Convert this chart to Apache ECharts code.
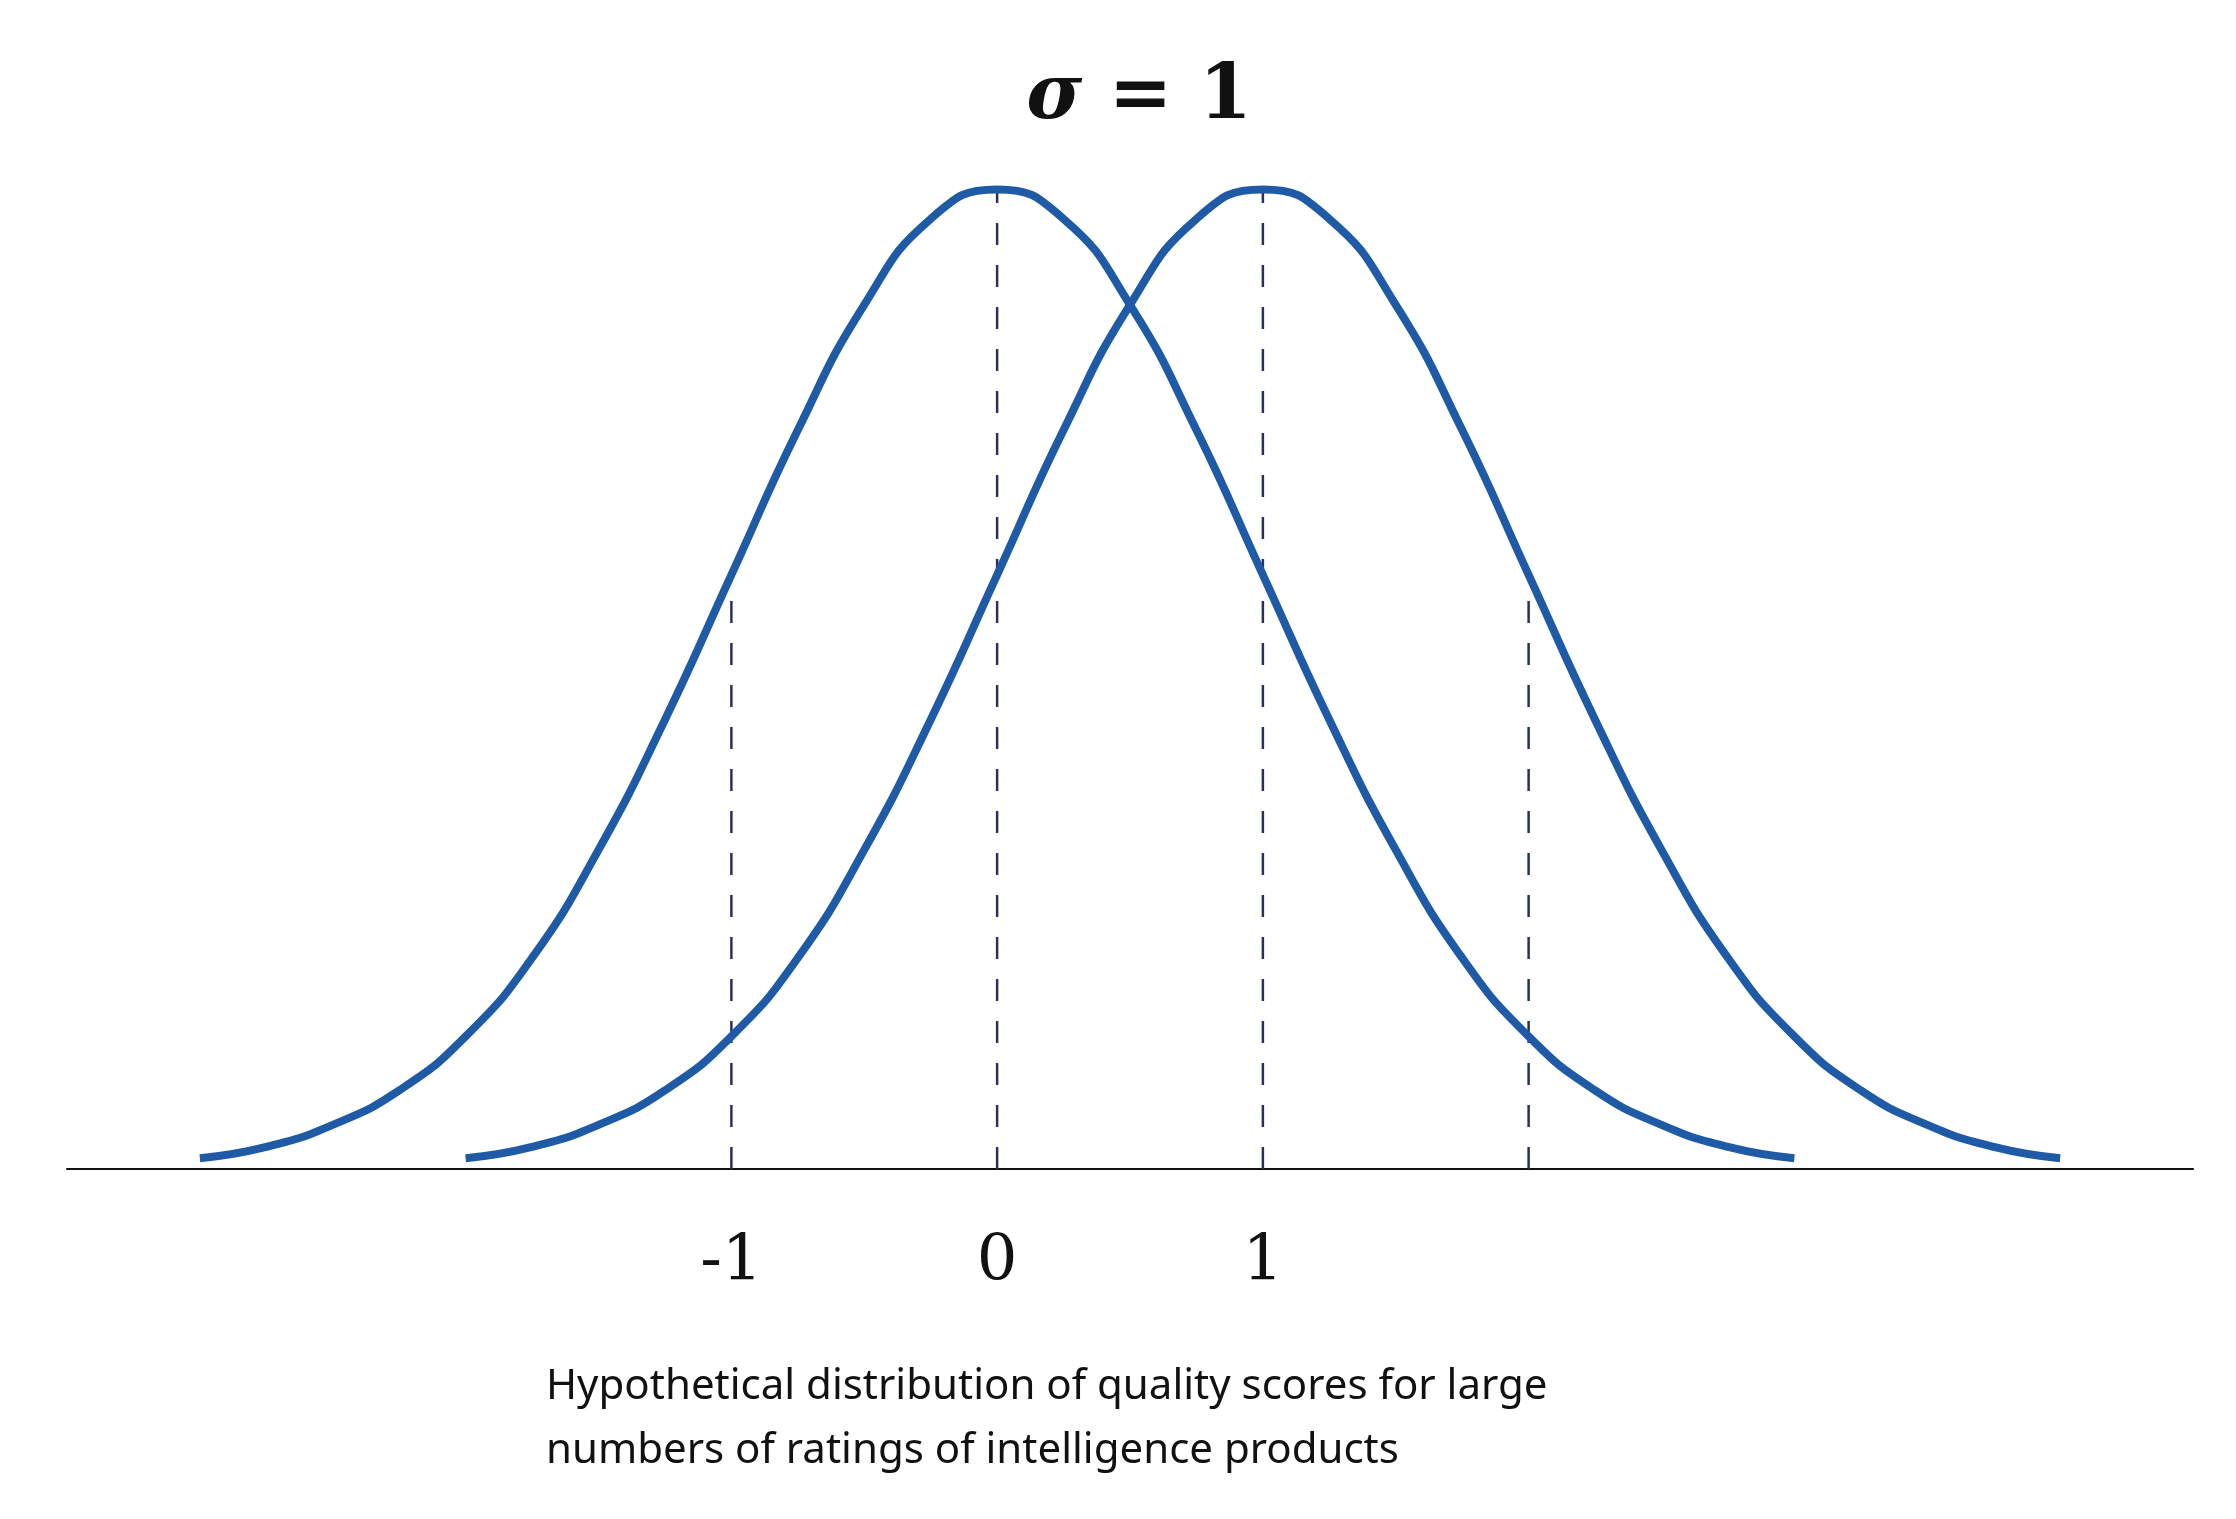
<!DOCTYPE html>
<html><head><meta charset="utf-8">
<script src="https://cdn.jsdelivr.net/npm/echarts@6/dist/echarts.min.js"></script>
<style>html,body{margin:0;background:#fff}#c{width:2236px;height:1519px}</style>
</head><body><div id="c"></div>
<script>
const xLeft = [-3,-2.75,-2.5,-2.25,-2,-1.75,-1.5,-1.25,-1,-0.75,-0.5,-0.25,0,0.25,0.5,0.75,1,1.25,1.5,1.75,2,2.25,2.5,2.75,3];
const yLeft = [0.0044,0.009,0.018,0.032,0.054,0.086,0.130,0.183,0.242,0.301,0.352,0.387,0.399,0.387,0.352,0.301,0.242,0.183,0.130,0.086,0.054,0.032,0.018,0.009,0.0044];
const xRight = [-2,-1.75,-1.5,-1.25,-1,-0.75,-0.5,-0.25,0,0.25,0.5,0.75,1,1.25,1.5,1.75,2,2.25,2.5,2.75,3,3.25,3.5,3.75,4];
const yRight = [0.0044,0.009,0.018,0.032,0.054,0.086,0.130,0.183,0.242,0.301,0.352,0.387,0.399,0.387,0.352,0.301,0.242,0.183,0.130,0.086,0.054,0.032,0.018,0.009,0.0044];
const dashX = [-1,0,1,2];
const dashTop = [0.242,0.399,0.399,0.242];
const tickLabels = [-1,0,1];
const titleText = ['σ', ' = 1'];
const caption = 'Hypothetical distribution of quality scores for large\nnumbers of ratings of intelligence products';

const curveStyle = {color:'#1f5aa6', width:8};
const series = [
  {type:'line', data:xLeft.map((x,i)=>[x,yLeft[i]]), smooth:true, symbol:'none', lineStyle:curveStyle, z:3},
  {type:'line', data:xRight.map((x,i)=>[x,yRight[i]]), smooth:true, symbol:'none', lineStyle:curveStyle, z:3}
];
dashX.forEach((x,i)=>series.push({type:'line', data:[[x,0],[x,dashTop[i]]], symbol:'none',
  lineStyle:{color:'#2b2f5a', width:2.5, type:[22,20]}, z:2}));

const chart = echarts.init(document.getElementById('c'));
chart.setOption({
  animation:false,
  backgroundColor:'#fff',
  grid:{left:67, right:43, top:187, bottom:350},
  title:{
    text:'{i|'+titleText[0]+'}{n|'+titleText[1]+'}',
    left:1134, top:55, textAlign:'center',
    textStyle:{rich:{
      i:{fontFamily:'DejaVu Serif', fontStyle:'italic', fontSize:76, color:'#111'},
      n:{fontFamily:'DejaVu Serif', fontSize:76, color:'#111'}
    }}
  },
  xAxis:{type:'value', min:-3.5, max:4.5,
    axisLine:{lineStyle:{color:'#111', width:2}},
    axisTick:{show:false}, splitLine:{show:false},
    axisLabel:{customValues:tickLabels, margin:62, fontFamily:'DejaVu Serif', fontSize:64, color:'#111'}
  },
  yAxis:{type:'value', min:0, max:0.4, show:false, splitLine:{show:false}},
  graphic:[{type:'text', left:546, top:1355, style:{text:caption, fontFamily:'Noto Sans', fontSize:42, lineHeight:64, fill:'#111'}}],
  series
});
</script></body></html>
